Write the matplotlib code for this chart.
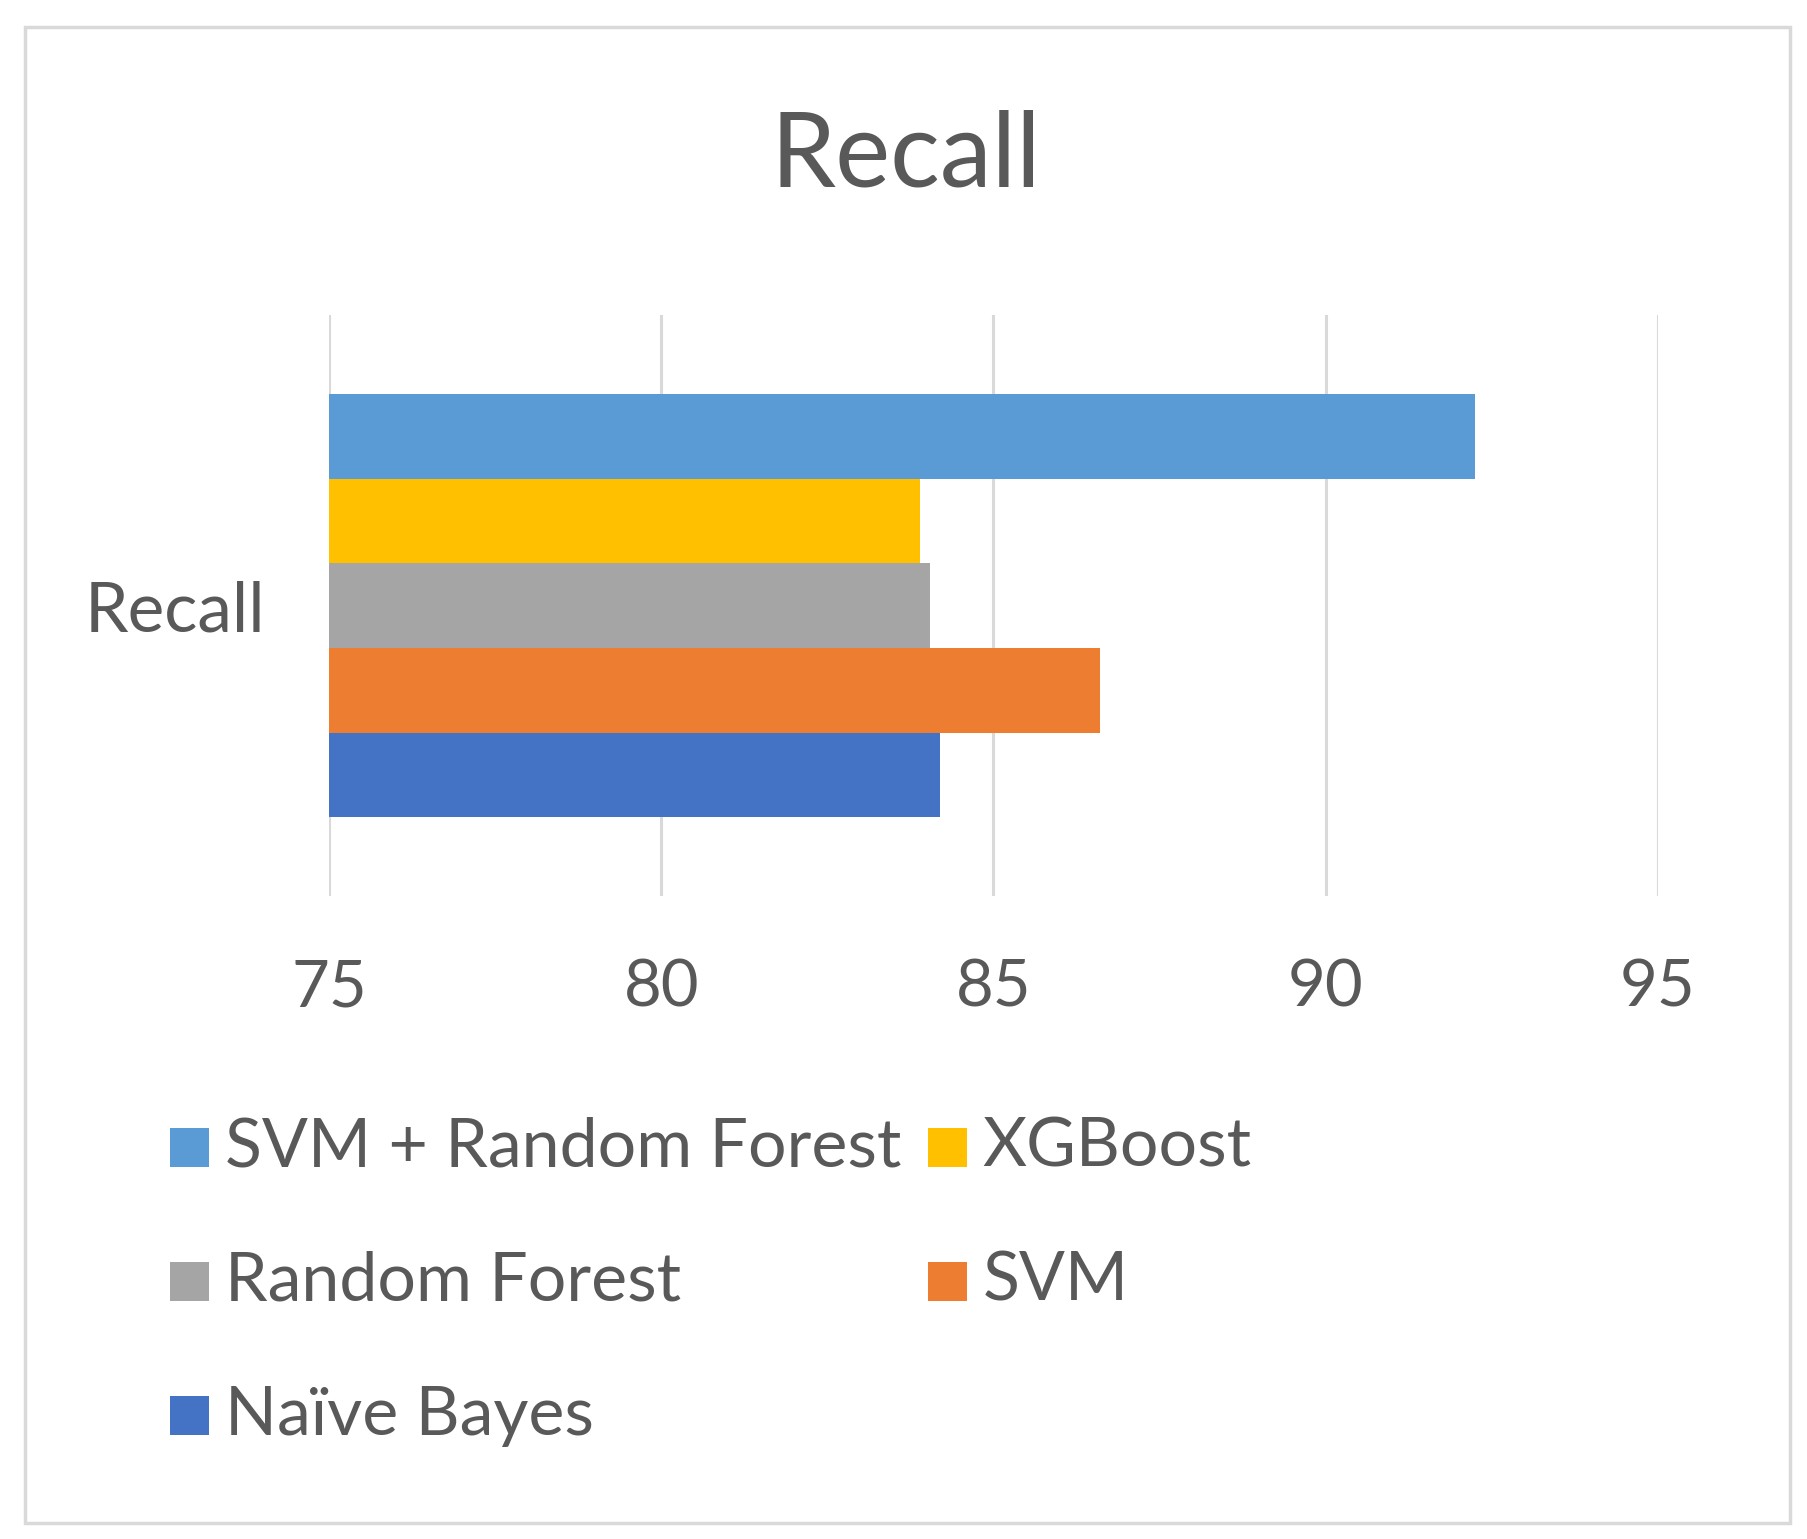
import matplotlib
matplotlib.use("Agg")
import matplotlib.pyplot as plt
from matplotlib.patches import Rectangle

models = ["SVM + Random Forest", "XGBoost", "Random Forest", "SVM", "Naïve Bayes"]
recall = [92.25, 83.9, 84.05, 86.6, 84.2]
colors = ["#5B9BD5", "#FFC000", "#A5A5A5", "#ED7D31", "#4472C4"]
category = ["Recall"]
xticks = [75, 80, 85, 90, 95]

TXT = "#595959"
plt.rcParams['font.family'] = ['Lato', 'DejaVu Sans']

W, H = 1808, 1539
fig = plt.figure(figsize=(W/100, H/100), dpi=100)

# outer border
fig.patches.append(Rectangle((0.014, 0.0105), 0.976, 0.972, transform=fig.transFigure,
                             fill=False, edgecolor="#D9D9D9", linewidth=2.5))

ax = fig.add_axes([0.182, 0.418, 0.735, 0.377])
n = len(models)
group = 0.73
bh = group / n
for i, (m, v, c) in enumerate(zip(models, recall, colors)):
    y = group/2 - bh*(i + 0.5)
    ax.barh(y, v - xticks[0], left=xticks[0], height=bh, color=c, zorder=3)

ax.set_xlim(xticks[0], xticks[-1])
ax.set_ylim(-0.5, 0.5)
ax.set_xticks(xticks)
ax.set_xticklabels([str(t) for t in xticks])
ax.set_yticks([0])
ax.set_yticklabels(category)
ax.tick_params(axis='x', length=0, pad=45, labelsize=47, labelcolor=TXT)
ax.tick_params(axis='y', length=0, pad=46, labelsize=50, labelcolor=TXT)
ax.grid(axis='x', color="#D9D9D9", linewidth=2.2, zorder=0)
for s in ax.spines.values():
    s.set_visible(False)

fig.text(0.501, 0.898, "Recall", ha='center', va='center', fontsize=75, color=TXT)

# legend (manual, Excel-like layout)
rows = [0.2545, 0.167, 0.080]
cols = [0.094, 0.513]
order = [(0, 0), (0, 1), (1, 0), (1, 1), (2, 0)]
sq = 39 / W
sqh = 39 / H
for (r, cidx), m, c in zip(order, models, colors):
    x0 = cols[cidx]
    y0 = rows[r]
    fig.patches.append(Rectangle((x0, y0 - sqh/2), sq, sqh, transform=fig.transFigure,
                                 facecolor=c, edgecolor='none'))
    fig.text(x0 + sq + 0.009, y0, m, ha='left', va='center', fontsize=49, color=TXT)

fig.savefig("out.png", dpi=100, facecolor="white")
